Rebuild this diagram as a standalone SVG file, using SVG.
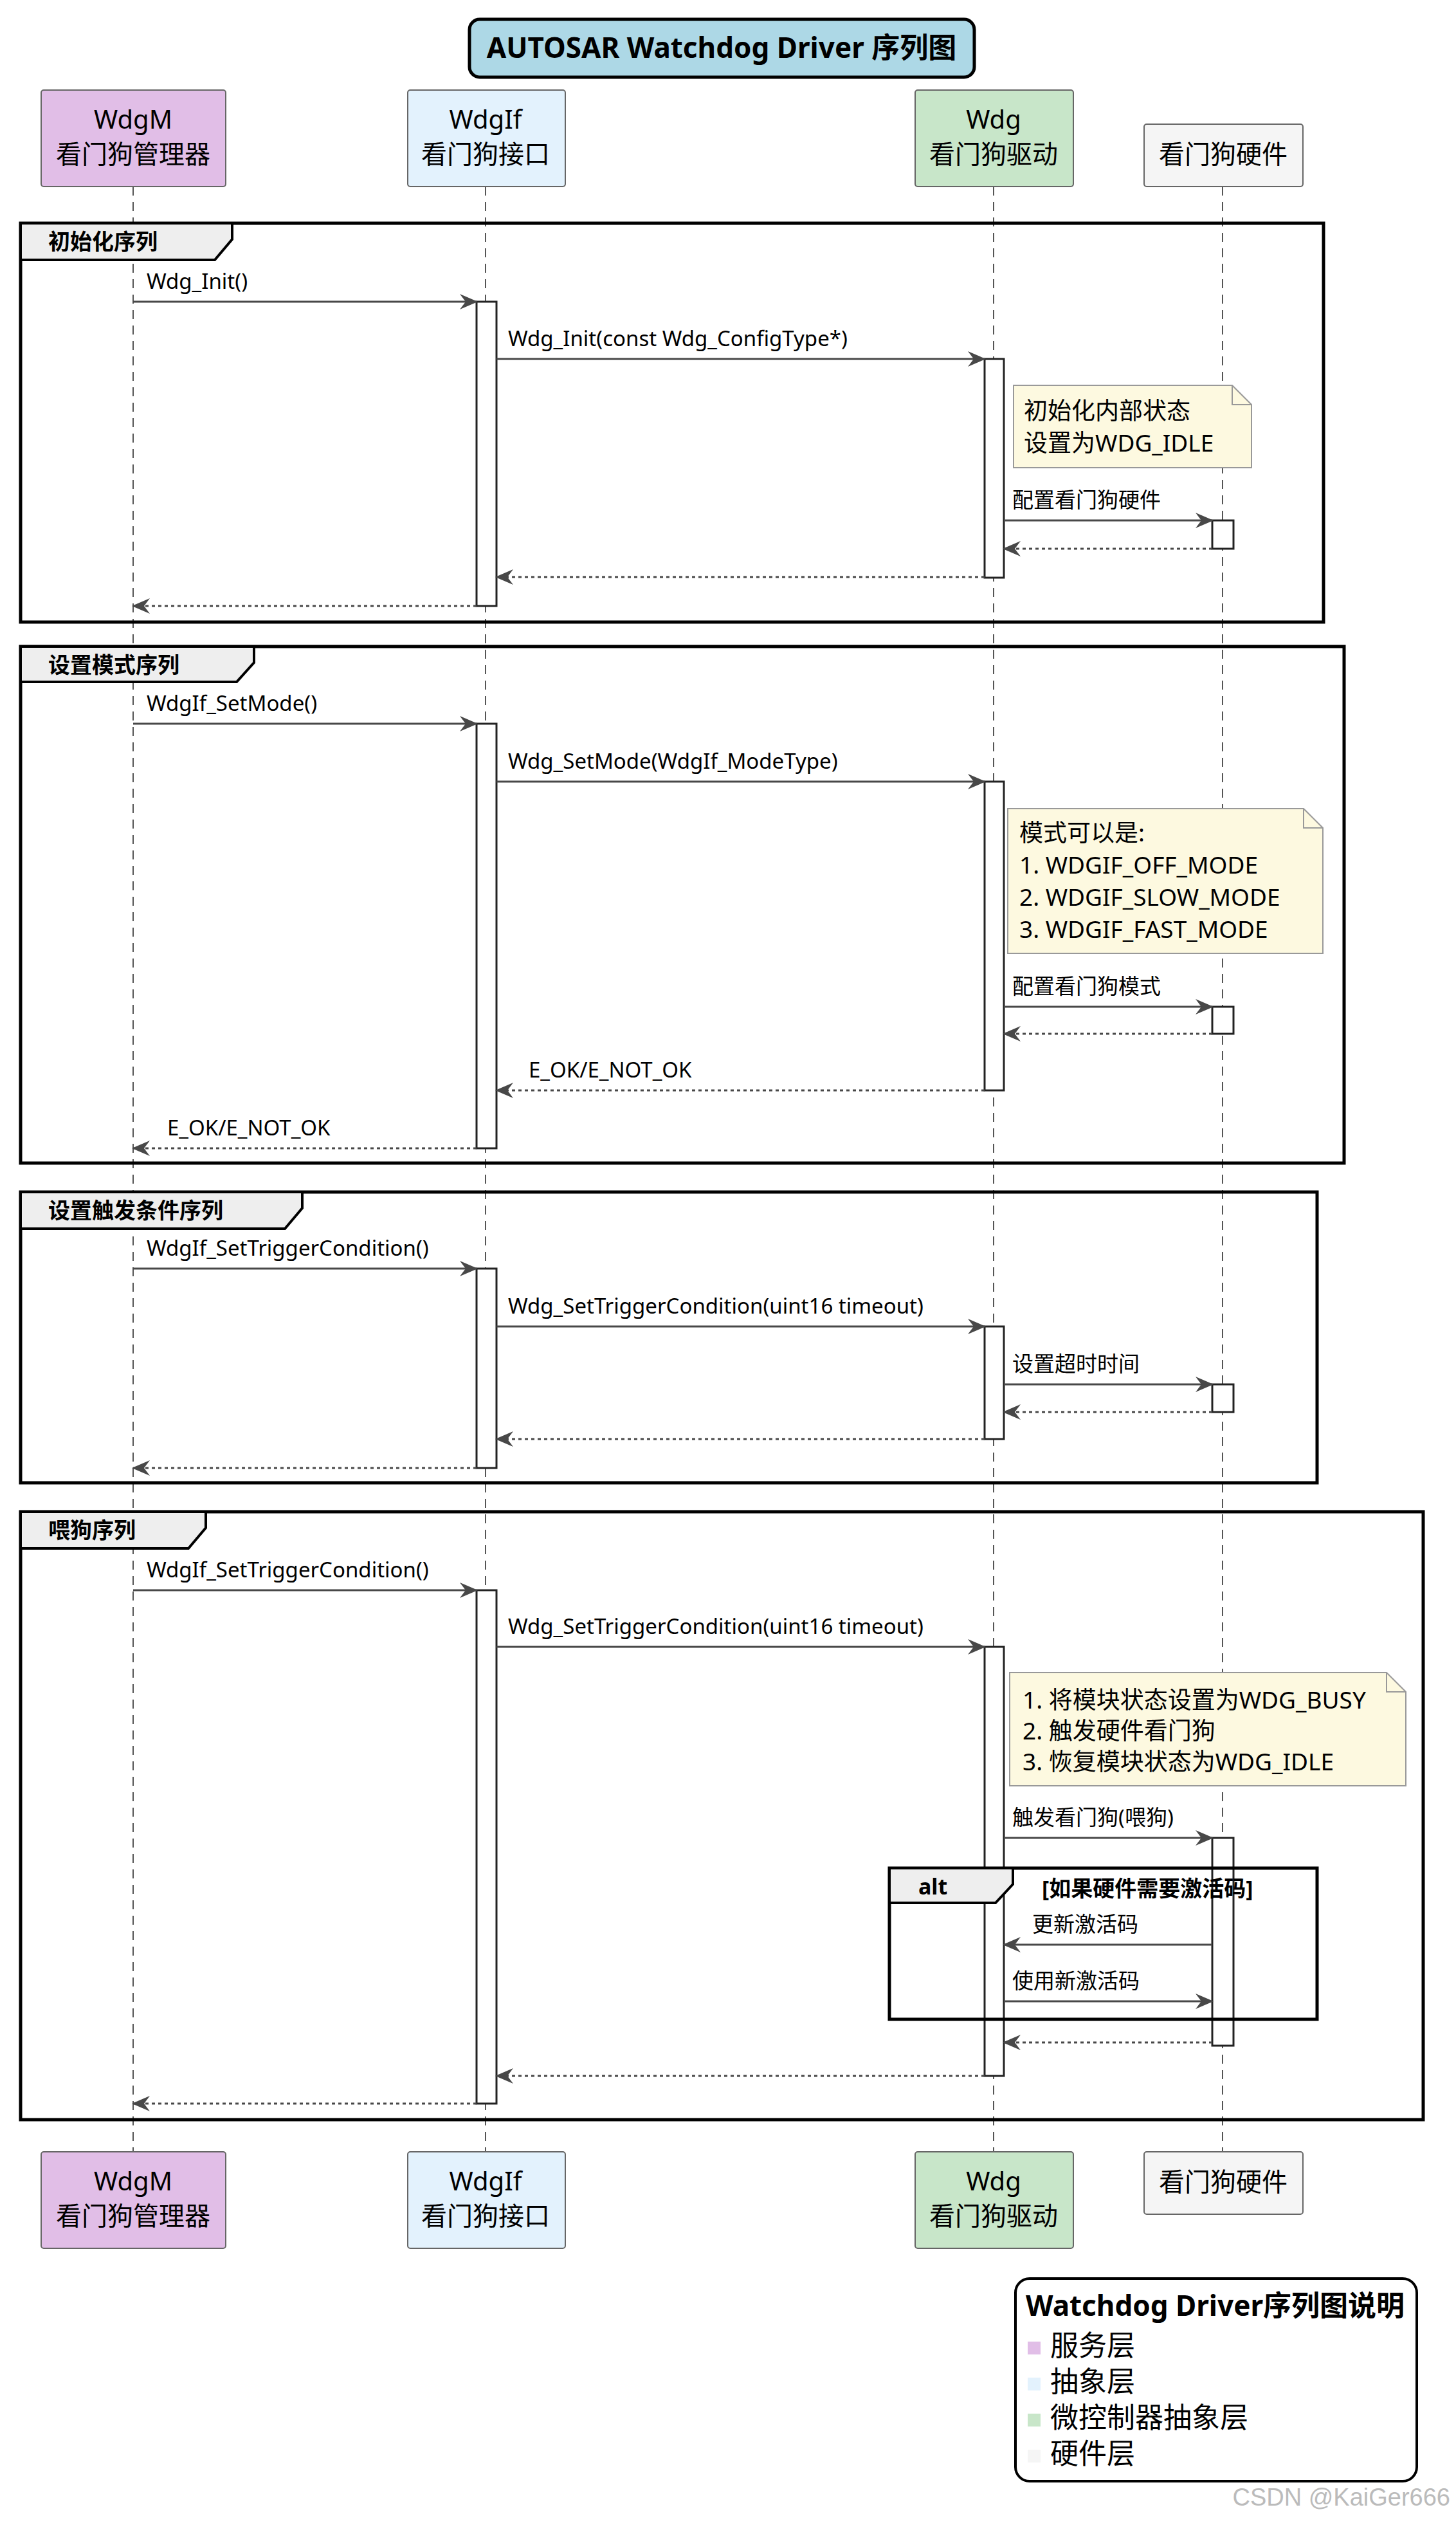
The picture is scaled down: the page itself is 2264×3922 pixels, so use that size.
<svg xmlns="http://www.w3.org/2000/svg" width="2264" height="3922" viewBox="0 0 2264 3922">
<style>
text{font-family:"Noto Sans","Noto Sans CJK SC",sans-serif;fill:#000}
.pt{font-size:40px;text-anchor:middle}
.msg{font-size:33px}
.note{font-size:37px}
.tab{font-size:34px;font-weight:bold}
.life{stroke:#555;stroke-width:2;stroke-dasharray:14,10;fill:none}
.frame{fill:none;stroke:#000;stroke-width:5}
.tabbg{fill:#eee;stroke:#000;stroke-width:4}
.act{fill:#fff;stroke:#222;stroke-width:3}
.sync{stroke:#484848;stroke-width:3;fill:none;marker-end:url(#ah)}
.ret{stroke:#484848;stroke-width:3;fill:none;stroke-dasharray:5,5;marker-end:url(#ah)}
.notebox{fill:#fdf9e0;stroke:#999;stroke-width:2}
.pbox{stroke:#666;stroke-width:2}
</style>
<defs>
<marker id="ah" markerWidth="28" markerHeight="24" refX="26" refY="12" orient="auto" markerUnits="userSpaceOnUse">
<path d="M0,0 L28,12 L0,24 L9,12 z" fill="#484848"/>
</marker>
</defs>
<rect width="2264" height="3922" fill="#fff"/>

<g id="title">
<rect x="730" y="30" width="785" height="90" rx="16" fill="#add8e6" stroke="#000" stroke-width="5"/>
<text x="1122" y="90" font-size="44" font-weight="bold" text-anchor="middle">AUTOSAR Watchdog Driver 序列图</text>
</g>

<g id="lifelines">
<line class="life" x1="207" y1="290" x2="207" y2="3345"/>
<line class="life" x1="755" y1="290" x2="755" y2="3345"/>
<line class="life" x1="1545" y1="290" x2="1545" y2="3345"/>
<line class="life" x1="1901" y1="290" x2="1901" y2="3345"/>
</g>

<g id="WdgM">
<rect class="pbox" x="64" y="140" width="287" height="150" rx="4" fill="#e1bee7"/>
<text class="pt" x="207" y="200">WdgM</text><text class="pt" x="207" y="254">看门狗管理器</text>
<rect class="pbox" x="64" y="3345" width="287" height="150" rx="4" fill="#e1bee7"/>
<text class="pt" x="207" y="3405">WdgM</text><text class="pt" x="207" y="3459">看门狗管理器</text>
</g>
<g id="WdgIf">
<rect class="pbox" x="634" y="140" width="245" height="150" rx="4" fill="#e3f2fd"/>
<text class="pt" x="755" y="200">WdgIf</text><text class="pt" x="755" y="254">看门狗接口</text>
<rect class="pbox" x="634" y="3345" width="245" height="150" rx="4" fill="#e3f2fd"/>
<text class="pt" x="755" y="3405">WdgIf</text><text class="pt" x="755" y="3459">看门狗接口</text>
</g>
<g id="Wdg">
<rect class="pbox" x="1423" y="140" width="246" height="150" rx="4" fill="#c8e6c9"/>
<text class="pt" x="1545" y="200">Wdg</text><text class="pt" x="1545" y="254">看门狗驱动</text>
<rect class="pbox" x="1423" y="3345" width="246" height="150" rx="4" fill="#c8e6c9"/>
<text class="pt" x="1545" y="3405">Wdg</text><text class="pt" x="1545" y="3459">看门狗驱动</text>
</g>
<g id="HW">
<rect class="pbox" x="1779" y="193" width="247" height="97" rx="4" fill="#f5f5f5"/>
<text class="pt" x="1902" y="254">看门狗硬件</text>
<rect class="pbox" x="1779" y="3345" width="247" height="97" rx="4" fill="#f5f5f5"/>
<text class="pt" x="1902" y="3406">看门狗硬件</text>
</g>

<!-- Frame 1 -->
<g id="frame-init">
<rect class="frame" x="32" y="347" width="2026" height="620"/>
<path class="tabbg" d="M32,347 H361 V372 L334,404 H32 Z"/>
<text class="tab" x="75" y="388">初始化序列</text>
<rect class="act" x="741" y="469" width="31" height="473"/>
<rect class="act" x="1531" y="558" width="30" height="340"/>
<rect class="act" x="1885" y="809" width="33" height="44"/>
<path class="notebox" d="M1576,599 H1916 L1946,629 V727 H1576 Z"/>
<path d="M1916,599 V629 H1946" fill="none" stroke="#999" stroke-width="2"/>
<text class="note" x="1592" y="652">初始化内部状态</text>
<text class="note" x="1592" y="702">设置为WDG_IDLE</text>
</g>

<!-- Frame 2 -->
<g id="frame-mode">
<rect class="frame" x="32" y="1005" width="2058" height="803"/>
<path class="tabbg" d="M32,1005 H395 V1030 L368,1060 H32 Z"/>
<text class="tab" x="75" y="1046">设置模式序列</text>
<rect class="act" x="741" y="1125" width="31" height="660"/>
<rect class="act" x="1531" y="1215" width="30" height="480"/>
<rect class="act" x="1885" y="1565" width="33" height="42"/>
<path class="notebox" d="M1567,1257 H2027 L2057,1287 V1482 H1567 Z"/>
<path d="M2027,1257 V1287 H2057" fill="none" stroke="#999" stroke-width="2"/>
<text class="note" x="1585" y="1308">模式可以是:</text>
<text class="note" x="1585" y="1358">1. WDGIF_OFF_MODE</text>
<text class="note" x="1585" y="1408">2. WDGIF_SLOW_MODE</text>
<text class="note" x="1585" y="1458">3. WDGIF_FAST_MODE</text>
</g>

<!-- Frame 3 -->
<g id="frame-trigger">
<rect class="frame" x="32" y="1853" width="2016" height="452"/>
<path class="tabbg" d="M32,1853 H470 V1878 L443,1910 H32 Z"/>
<text class="tab" x="75" y="1894">设置触发条件序列</text>
<rect class="act" x="741" y="1972" width="31" height="310"/>
<rect class="act" x="1531" y="2062" width="30" height="175"/>
<rect class="act" x="1885" y="2152" width="33" height="43"/>
</g>

<!-- Frame 4 -->
<g id="frame-feed">
<rect class="frame" x="32" y="2350" width="2181" height="945"/>
<path class="tabbg" d="M32,2350 H320 V2375 L293,2407 H32 Z"/>
<text class="tab" x="75" y="2391">喂狗序列</text>
<rect class="act" x="741" y="2472" width="31" height="798"/>
<rect class="act" x="1531" y="2560" width="30" height="667"/>
<rect class="act" x="1885" y="2857" width="33" height="323"/>
<path class="notebox" d="M1570,2600 H2156 L2186,2630 V2776 H1570 Z"/>
<path d="M2156,2600 V2630 H2186" fill="none" stroke="#999" stroke-width="2"/>
<text class="note" x="1590" y="2656">1. 将模块状态设置为WDG_BUSY</text>
<text class="note" x="1590" y="2704">2. 触发硬件看门狗</text>
<text class="note" x="1590" y="2752">3. 恢复模块状态为WDG_IDLE</text>
</g>
<g id="alt">
<rect class="frame" x="1383" y="2904" width="665" height="235"/>
<path class="tabbg" d="M1383,2904 H1575 V2929 L1548,2958 H1383 Z"/>
<text class="tab" x="1428" y="2945">alt</text>
<text class="tab" x="1620" y="2948">[如果硬件需要激活码]</text>
</g>

<g id="connectors">
<line class="sync" x1="207" y1="469" x2="741" y2="469"/>
<text class="msg" x="228" y="449">Wdg_Init()</text>
<line class="sync" x1="772" y1="558" x2="1531" y2="558"/>
<text class="msg" x="790" y="538">Wdg_Init(const Wdg_ConfigType*)</text>
<line class="sync" x1="1561" y1="809" x2="1885" y2="809"/>
<text class="msg" x="1574" y="789">配置看门狗硬件</text>
<line class="ret" x1="1885" y1="853" x2="1561" y2="853"/>
<line class="ret" x1="1531" y1="897" x2="772" y2="897"/>
<line class="ret" x1="741" y1="942" x2="207" y2="942"/>

<line class="sync" x1="207" y1="1125" x2="741" y2="1125"/>
<text class="msg" x="228" y="1105">WdgIf_SetMode()</text>
<line class="sync" x1="772" y1="1215" x2="1531" y2="1215"/>
<text class="msg" x="790" y="1195">Wdg_SetMode(WdgIf_ModeType)</text>
<line class="sync" x1="1561" y1="1565" x2="1885" y2="1565"/>
<text class="msg" x="1574" y="1545">配置看门狗模式</text>
<line class="ret" x1="1885" y1="1607" x2="1561" y2="1607"/>
<line class="ret" x1="1531" y1="1695" x2="772" y2="1695"/>
<text class="msg" x="822" y="1675">E_OK/E_NOT_OK</text>
<line class="ret" x1="741" y1="1785" x2="207" y2="1785"/>
<text class="msg" x="260" y="1765">E_OK/E_NOT_OK</text>

<line class="sync" x1="207" y1="1972" x2="741" y2="1972"/>
<text class="msg" x="228" y="1952">WdgIf_SetTriggerCondition()</text>
<line class="sync" x1="772" y1="2062" x2="1531" y2="2062"/>
<text class="msg" x="790" y="2042">Wdg_SetTriggerCondition(uint16 timeout)</text>
<line class="sync" x1="1561" y1="2152" x2="1885" y2="2152"/>
<text class="msg" x="1574" y="2132">设置超时时间</text>
<line class="ret" x1="1885" y1="2195" x2="1561" y2="2195"/>
<line class="ret" x1="1531" y1="2237" x2="772" y2="2237"/>
<line class="ret" x1="741" y1="2282" x2="207" y2="2282"/>

<line class="sync" x1="207" y1="2472" x2="741" y2="2472"/>
<text class="msg" x="228" y="2452">WdgIf_SetTriggerCondition()</text>
<line class="sync" x1="772" y1="2560" x2="1531" y2="2560"/>
<text class="msg" x="790" y="2540">Wdg_SetTriggerCondition(uint16 timeout)</text>
<line class="sync" x1="1561" y1="2857" x2="1885" y2="2857"/>
<text class="msg" x="1574" y="2837">触发看门狗(喂狗)</text>
<line class="sync" x1="1885" y1="3023" x2="1561" y2="3023"/>
<text class="msg" x="1605" y="3003">更新激活码</text>
<line class="sync" x1="1561" y1="3111" x2="1885" y2="3111"/>
<text class="msg" x="1574" y="3091">使用新激活码</text>
<line class="ret" x1="1885" y1="3175" x2="1561" y2="3175"/>
<line class="ret" x1="1531" y1="3227" x2="772" y2="3227"/>
<line class="ret" x1="741" y1="3270" x2="207" y2="3270"/>
</g>

<g id="legend">
<rect x="1579" y="3542" width="624" height="315" rx="22" fill="#fff" stroke="#000" stroke-width="4"/>
<text x="1595" y="3600" font-size="44" font-weight="bold">Watchdog Driver序列图说明</text>
<rect x="1598" y="3640" width="20" height="20" fill="#e1bee7"/>
<text x="1633" y="3662" font-size="44">服务层</text>
<rect x="1598" y="3696" width="20" height="20" fill="#e3f2fd"/>
<text x="1633" y="3718" font-size="44">抽象层</text>
<rect x="1598" y="3752" width="20" height="20" fill="#c8e6c9"/>
<text x="1633" y="3774" font-size="44">微控制器抽象层</text>
<rect x="1598" y="3808" width="20" height="20" fill="#f5f5f5"/>
<text x="1633" y="3830" font-size="44">硬件层</text>
</g>
<text x="2255" y="3895" font-size="38" text-anchor="end" style="fill:#bbb;font-family:'Liberation Sans',sans-serif">CSDN @KaiGer666</text>
</svg>
